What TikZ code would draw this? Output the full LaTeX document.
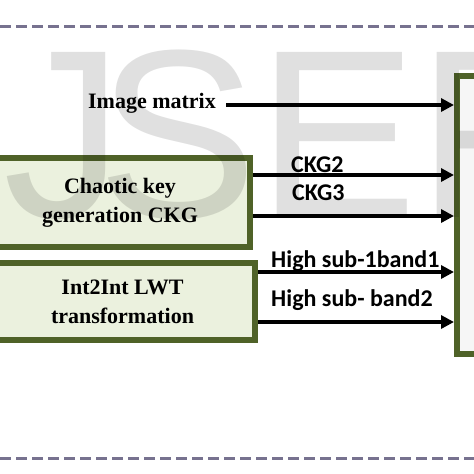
\documentclass[tikz,border=0pt]{standalone}
\usepackage{fontspec}
\setmainfont{Liberation Serif}
\newfontfamily\lblfont{Carlito}
\newfontfamily\wmfont{Liberation Sans}
\usetikzlibrary{arrows.meta}

\definecolor{olivebd}{HTML}{4F6228}
\definecolor{olivefl}{HTML}{EBF1DE}
\definecolor{dashgr}{HTML}{77728F}

\tikzset{
  blockbox/.style={draw=olivebd, fill=olivefl, line width=6pt, align=center,
    font=\bfseries\fontsize{22}{29}\selectfont},
  arr/.style={line width=4pt, -{Triangle[length=13pt,width=13pt]}},
  lbl/.style={anchor=base west, inner sep=0pt, font=\lblfont\bfseries\fontsize{24}{24}\selectfont},
  sepline/.style={dashgr, line width=3pt, dash pattern=on 11pt off 5pt},
  wmark/.style={anchor=base west, inner sep=0pt, text=black, text opacity=0.12,
    font=\wmfont\fontsize{240}{240}\selectfont}
}

\begin{document}
\begin{tikzpicture}[x=1pt,y=1pt,yscale=-1,xscale=1]
\useasboundingbox (0,0) rectangle (474,474);
\clip (0,0) rectangle (474,474);
\fill[white] (0,0) rectangle (474,474);

%Straight Lines [id:top dashed]
\draw[sepline] (0,26) -- (474,26) ;
%Straight Lines [id:bottom dashed]
\draw[sepline] (0,458) -- (474,458) ;

%Shape: Rectangle [id:encryption block]
\node[draw=olivebd, fill=gray!7, line width=6pt, minimum width=60pt, minimum height=278pt, inner sep=0pt] (enc) at (487,215) {};
%Shape: Rectangle [id:ckg block]
\node[blockbox, minimum width=260pt, minimum height=89pt] (ckg) at (120,202.5) {Chaotic key\\generation CKG};
%Shape: Rectangle [id:lwt block]
\node[blockbox, minimum width=265pt, minimum height=77pt] (lwt) at (122.5,301.5) {Int2Int LWT\\transformation};

% Text Node
\node[anchor=base east, inner sep=0pt, font=\bfseries\fontsize{22}{22}\selectfont] (img) at (216,108) {Image matrix};
% Text Node
\node[lbl] (ckgtwo) at (291,172) {CKG2};
% Text Node
\node[lbl] (ckgthree) at (292,200) {CKG3};
% Text Node
\node[lbl] (bandone) at (271,267) {High sub-1band1};
% Text Node
\node[lbl] (bandtwo) at (271,306) {High sub- band2};

%Straight Lines [id:arrows]
\draw[arr] ([xshift=10pt]img.east |- 0,105) -- (enc.west |- 0,105) ;
\draw[arr] (ckg.east |- 0,175) -- (enc.west |- 0,175) ;
\draw[arr] (ckg.east |- 0,216) -- (enc.west |- 0,216) ;
\draw[arr] (lwt.east |- 0,272) -- (enc.west |- 0,272) ;
\draw[arr] (lwt.east |- 0,322) -- (enc.west |- 0,322) ;

% Text Node [id:watermark]
\node[wmark] (wmij) at (-63,217) {IJ};
\node[wmark] (wmser) at (97,217) {SER};

\end{tikzpicture}
\end{document}
